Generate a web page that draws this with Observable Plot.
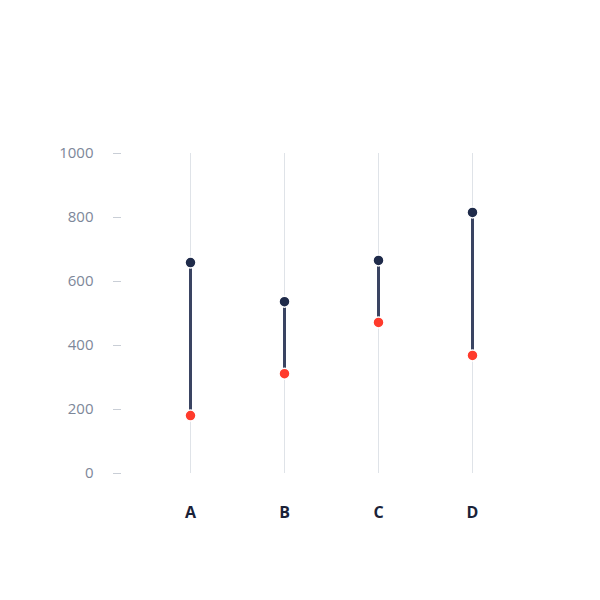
<!DOCTYPE html>
<html>
<head>
<meta charset="utf-8">
<script src="https://cdn.jsdelivr.net/npm/d3@7"></script>
<script src="https://cdn.jsdelivr.net/npm/@observablehq/plot@0.6"></script>
<style>
  html, body { margin: 0; padding: 0; background: #fff; }
</style>
</head>
<body>
<div id="chart"></div>
<script>
const categories = ["A", "B", "C", "D"];
const highValues = [659, 537, 666, 816];
const lowValues = [181, 312, 472, 369];
const yTicks = [0, 200, 400, 600, 800, 1000];

const data = categories.map((c, i) => ({cat: c, high: highValues[i], low: lowValues[i]}));

const chart = Plot.plot({
  width: 600,
  height: 600,
  marginTop: 153,
  marginBottom: 127,
  marginLeft: 121,
  marginRight: 81,
  style: {fontFamily: "'Open Sans', Inter, sans-serif", background: "#fff"},
  x: {type: "point", domain: categories, padding: 0.5, insetLeft: 22, label: null},
  y: {domain: [0, 1000], label: null},
  marks: [
    Plot.ruleX(categories, {x: d => d, y1: 0, y2: 1000, stroke: "#dfe3e8", strokeWidth: 1}),
    Plot.axisY({ticks: yTicks, tickFormat: d => String(d), tickSize: 8, tickPadding: 20, stroke: "#c9ced6", fill: "#7d8799", fontSize: 15, label: null}),
    Plot.axisX({tickSize: 0, tickPadding: 33, fill: "#1a2238", fontSize: 16, fontWeight: "bold", label: null}),
    Plot.ruleX(data, {x: "cat", y1: "low", y2: "high", stroke: "#3a4462", strokeWidth: 3}),
    Plot.dot(data, {x: "cat", y: "high", r: 5.5, fill: "#1f2b4a", stroke: "#fff", strokeWidth: 1.5}),
    Plot.dot(data, {x: "cat", y: "low", r: 5.5, fill: "#ff3b2c", stroke: "#fff", strokeWidth: 1.5})
  ]
});
document.getElementById("chart").appendChild(chart);
</script>
</body>
</html>
